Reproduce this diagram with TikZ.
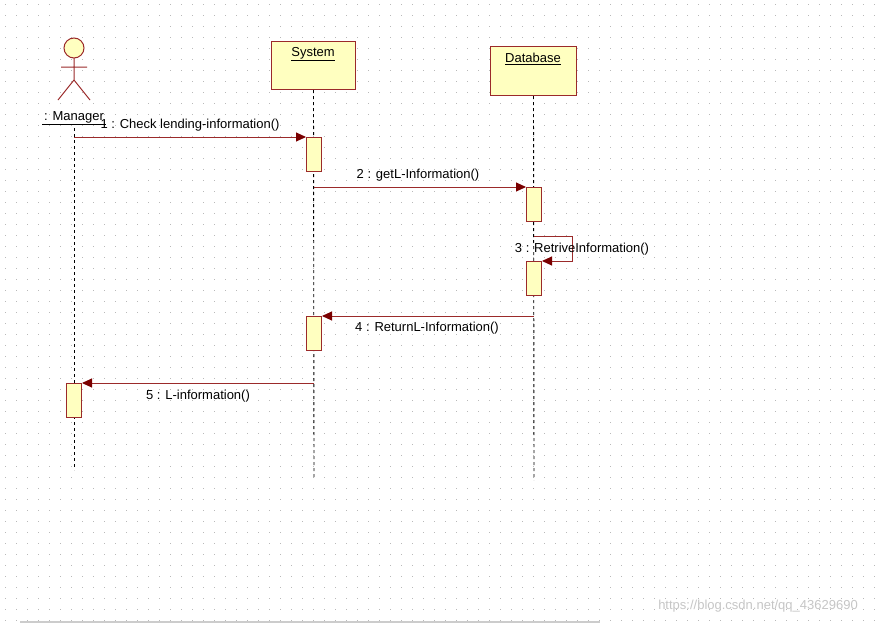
\documentclass[tikz,border=0pt]{standalone}
\usepackage{fontspec}
\setmainfont{Liberation Sans}
\usetikzlibrary{arrows.meta}
\definecolor{ln}{HTML}{9B2A2A}
\definecolor{fl}{HTML}{FFFFC0}
\definecolor{ar}{HTML}{7A0000}
\begin{document}
\begin{tikzpicture}[x=1pt,y=-1pt,font=\fontsize{13}{15}\selectfont,
  obj/.style={draw=ln,fill=fl,line width=1pt},
  act/.style={draw=ln,fill=fl,line width=1pt},
  life/.style={dash pattern=on 3pt off 3pt,line width=0.9pt},
  msg/.style={draw=ln,line width=1pt,-{Triangle[length=10pt,width=9pt,fill=ar,color=ar]}},
  lbl/.style={inner sep=0pt}]
\useasboundingbox (0,0) rectangle (885,624);
\fill[white] (0,0) rectangle (885,624);
\foreach \yy in {4,15,...,620} \draw[gray!55,line width=1pt,dash pattern=on 1pt off 10pt] (5,\yy) -- (885,\yy);
% actor
\draw[ln,fill=fl,line width=1pt] (74,48) circle (10);
\draw[ln,line width=1pt] (74,58) -- (74,80) (61,67) -- (87,67) (58,100) -- (74,80) -- (90,100);
\node[lbl] (mgr) at (74,117) {: Manager};
\draw[black,line width=0.8pt] (42,124) -- (106,124);
\node[obj,minimum width=84pt,minimum height=48pt,anchor=north west] (sys) at (271,41) {};
\node[lbl] at (313,54) {\underline{System}};
\node[obj,minimum width=86pt,minimum height=49pt,anchor=north west] (db) at (490,46) {};
\node[lbl] at (533,59) {\underline{Database}};
\coordinate (m0) at (74,128); \coordinate (m1) at (74,470);
\coordinate (s1) at (314,477); \coordinate (d1) at (534,480);
\draw[life] (m0) -- (m1);
\draw[life] (sys.south) -- (s1);
\draw[life] (db.south) -- (d1);
% activations
\node[act,minimum width=15pt,minimum height=34pt,inner sep=0pt,anchor=north west] (a1) at (306,137) {};
\node[act,minimum width=15pt,minimum height=34pt,inner sep=0pt,anchor=north west] (a2) at (526,187) {};
\node[act,minimum width=15pt,minimum height=34pt,inner sep=0pt,anchor=north west] (a3) at (526,261) {};
\node[act,minimum width=15pt,minimum height=34pt,inner sep=0pt,anchor=north west] (a4) at (306,316) {};
\node[act,minimum width=15pt,minimum height=34pt,inner sep=0pt,anchor=north west] (a5) at (66,383) {};
% messages
\coordinate (p1) at (74,137); \draw[msg] (p1) -- (a1.north west);
\node[lbl] at (190,125) {1 : Check lending-information()};
\coordinate (p2) at (314,187); \draw[msg] (p2) -- (a2.north west);
\node[lbl] at (418,175) {2 : getL-Information()};
\coordinate (p3) at (534,236);
\draw[msg] (p3) -- (572,236) -- (572,261) -- (a3.north east);
\node[lbl] at (582,249) {3 : RetriveInformation()};
\coordinate (p4) at (534,316); \draw[msg] (p4) -- (a4.north east);
\node[lbl] at (427,328) {4 : ReturnL-Information()};
\coordinate (p5) at (314,383); \draw[msg] (p5) -- (a5.north east);
\node[lbl] at (198,396) {5 : L-information()};
\node[lbl,text=gray!45] at (758,606) {https://blog.csdn.net/qq\_43629690};
\draw[gray!40,line width=1.5pt] (20,622) -- (600,622);
\end{tikzpicture}
\end{document}
